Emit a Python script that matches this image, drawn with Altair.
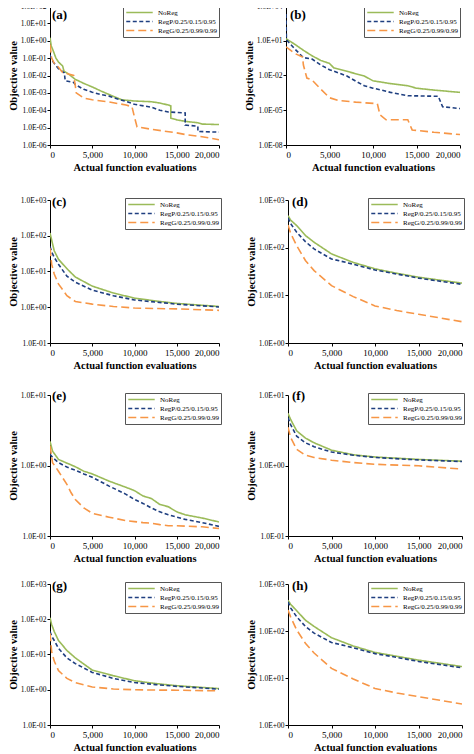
import altair as alt
import pandas as pd

SERIES = ["NoReg", "RegP/0.25/0.15/0.95", "RegG/0.25/0.99/0.99"]
COLORS = ["#9BBB59", "#1F3F80", "#F79646"]
DASHES = [[1, 0], [4, 2.5], [8, 4]]
X_TICKS = [0, 5000, 10000, 15000, 20000]
FONT = "Liberation Serif"

# ---- panel (a)
A_NOREG_X = [0, 150, 400, 700, 1000, 1500, 1650, 2200, 3000, 4000, 5000, 6000, 7000, 8000, 8500, 10000, 12000, 13000, 14000, 14300, 14300, 15000, 16000, 17500, 18000, 20000]
A_NOREG_Y = [1.5, 0.5, 0.25, 0.1, 0.06, 0.035, 0.018, 0.012, 6e-3, 3.5e-3, 2.2e-3, 1.3e-3, 8e-4, 5e-4, 4e-4, 3.4e-4, 3.1e-4, 2.6e-4, 2e-4, 1.8e-4, 3.5e-5, 2.8e-5, 2.3e-5, 1.9e-5, 1.6e-5, 1.5e-5]
A_REGP_X = [0, 200, 500, 1000, 1700, 1800, 2800, 3000, 4000, 5000, 6000, 7000, 8000, 9000, 10000, 12000, 13000, 14000, 16000, 16000, 17500, 17500, 20000]
A_REGP_Y = [0.15, 0.08, 0.05, 0.025, 0.014, 5e-3, 4e-3, 3e-3, 1.6e-3, 1.1e-3, 8e-4, 6.5e-4, 4.5e-4, 3.2e-4, 2.2e-4, 1.5e-4, 1e-4, 8e-5, 7e-5, 1.4e-5, 1.2e-5, 6e-6, 5.5e-6]
A_REGG_X = [0, 200, 500, 1000, 1500, 2800, 3000, 3100, 4000, 5000, 7000, 9000, 9700, 10000, 10300, 12000, 15000, 16000, 18000, 20000]
A_REGG_Y = [0.6, 0.1, 0.05, 0.03, 0.015, 0.01, 2.5e-3, 1e-3, 5e-4, 4e-4, 3e-4, 2e-4, 1.6e-4, 4e-5, 1.1e-5, 8e-6, 5e-6, 4e-6, 3e-6, 2e-6]
A_Y_TICKS = [1e-6, 1e-5, 1e-4, 1e-3, 1e-2, 1e-1, 1e0, 1e1, 1e2]

# ---- panel (b)
B_NOREG_X = [0, 1000, 2000, 3000, 4000, 5000, 5500, 7000, 9000, 10000, 12000, 14000, 15000, 17000, 20000]
B_NOREG_Y = [15, 5, 1.5, 0.5, 0.2, 0.11, 0.045, 0.023, 9e-3, 3.5e-3, 2e-3, 1.3e-3, 8e-4, 5.5e-4, 3.5e-4]
B_REGP_X = [0, 50, 1000, 2000, 3000, 4000, 5000, 6000, 7000, 8000, 9000, 10000, 11000, 12000, 14000, 17500, 18000, 20000]
B_REGP_Y = [2000, 12, 2, 0.35, 0.26, 0.08, 0.032, 0.017, 9e-3, 3.3e-3, 1.3e-3, 8e-4, 5.5e-4, 3.5e-4, 1.8e-4, 1.6e-4, 2e-5, 1.4e-5]
B_REGG_X = [0, 1000, 1900, 2000, 2400, 3000, 4000, 5000, 6000, 8000, 10500, 10800, 11500, 14000, 14500, 17000, 20000]
B_REGG_Y = [3, 0.8, 0.4, 0.08, 6e-3, 4e-3, 6.6e-4, 1.2e-4, 7e-5, 5e-5, 3.7e-5, 4e-6, 1.5e-6, 1.5e-6, 2e-7, 1.25e-7, 8e-8]
B_Y_TICKS = [1e-8, 1e-5, 1e-2, 1e1, 1e4]

# ---- panel (c)
C_X = [0, 200, 500, 1000, 2000, 3000, 5000, 7500, 10000, 12500, 15000, 20000]
C_NOREG_Y = [120, 75, 38, 22, 12, 7, 3.9, 2.5, 1.8, 1.5, 1.28, 1.05]
C_REGP_Y = [50, 35, 25, 16, 7.4, 5, 3, 2.1, 1.6, 1.4, 1.22, 1.02]
C_REGG_Y = [45, 16, 8.5, 4.5, 2.1, 1.45, 1.22, 1.05, 0.95, 0.92, 0.9, 0.82]
C_Y_TICKS = [1e-1, 1e0, 1e1, 1e2, 1e3]

# ---- panel (d)
D_X = [0, 300, 1000, 2000, 3000, 5000, 7500, 10000, 12500, 15000, 20000]
D_NOREG_Y = [470, 380, 290, 180, 130, 74, 49, 36, 29, 24, 18]
D_REGP_Y = [420, 320, 210, 134, 94, 58, 45, 34, 28, 23, 17]
D_REGG_Y = [300, 200, 110, 54, 33, 16, 9.4, 6, 4.8, 4, 2.8]
D_Y_TICKS = [1e0, 1e1, 1e2, 1e3]

# ---- panel (e)
E_X = [0, 300, 1000, 2000, 2500, 3000, 4000, 5000, 7000, 9000, 10000, 11000, 12000, 13000, 14000, 15000, 16000, 18000, 20000]
E_NOREG_Y = [2.2, 1.6, 1.22, 1.08, 1.02, 0.96, 0.83, 0.76, 0.6, 0.49, 0.44, 0.37, 0.34, 0.28, 0.26, 0.22, 0.2, 0.18, 0.158]
E_REGP_Y = [1.45, 1.3, 1.1, 0.95, 0.9, 0.86, 0.76, 0.68, 0.51, 0.39, 0.33, 0.29, 0.25, 0.22, 0.2, 0.185, 0.172, 0.155, 0.137]
E_REGG_Y = [1.9, 1.1, 0.83, 0.54, 0.41, 0.33, 0.25, 0.21, 0.185, 0.165, 0.16, 0.155, 0.152, 0.145, 0.14, 0.14, 0.138, 0.135, 0.128]
E_Y_TICKS = [1e-1, 1e0, 1e1]

# ---- panel (f)
F_X = [0, 300, 1000, 2000, 3000, 5000, 7500, 10000, 15000, 20000]
F_NOREG_Y = [5.5, 4.5, 3.1, 2.45, 2.1, 1.65, 1.42, 1.32, 1.22, 1.15]
F_REGP_Y = [4.8, 3.8, 2.6, 2.1, 1.85, 1.55, 1.4, 1.3, 1.2, 1.14]
F_REGG_Y = [3.5, 2.5, 1.7, 1.4, 1.3, 1.19, 1.1, 1.04, 0.99, 0.89]
F_Y_TICKS = [1e-1, 1e0, 1e1]

# ---- panel (g)
G_X = [0, 200, 500, 1000, 2000, 3000, 5000, 7500, 10000, 12500, 15000, 20000]
G_NOREG_Y = [110, 70, 45, 25, 13, 8, 3.6, 2.5, 1.8, 1.5, 1.3, 1.08]
G_REGP_Y = [45, 33, 25, 15, 8, 5.5, 3.1, 2.1, 1.6, 1.4, 1.25, 1.04]
G_REGG_Y = [40, 12, 6.5, 3.5, 2.1, 1.6, 1.2, 1.05, 1.0, 0.98, 0.97, 0.93]
G_Y_TICKS = [1e-1, 1e0, 1e1, 1e2, 1e3]

# ---- panel (h)
H_X = [0, 300, 1000, 2000, 3000, 5000, 7500, 10000, 12500, 15000, 20000]
H_NOREG_Y = [450, 370, 270, 170, 125, 72, 48, 35, 29, 24, 17.5]
H_REGP_Y = [420, 310, 200, 125, 90, 57, 44, 33, 27.5, 22.5, 16.5]
H_REGG_Y = [280, 200, 105, 55, 34, 16, 9.5, 6, 4.8, 4, 2.8]
H_Y_TICKS = [1e0, 1e1, 1e2, 1e3]

Y_LABEL_EXPR = ("'1.0E' + (datum.value < 0.99 ? '-' : '+') + "
                "(abs(round(log(datum.value) / LN10)) < 10 ? '0' : '') + "
                "abs(round(log(datum.value) / LN10))")
X_LABEL_EXPR = "format(datum.value, ',')"


def build_frame(xs, ys):
    rows = []
    for name, x_list, y_list in zip(SERIES, xs, ys):
        for i, (x, y) in enumerate(zip(x_list, y_list)):
            rows.append({"series": name, "x": x, "y": y, "i": i})
    return pd.DataFrame(rows)


def legend(offset):
    return alt.Legend(title=None, orient="top-right", offset=offset, strokeColor="#555555",
                      fillColor="white", padding=2)


def panel(label, xs, ys, yticks, width, height, tag_x, tag_y, leg_offset=-2):
    df = build_frame(xs, ys)
    lines = alt.Chart(df).mark_line(strokeWidth=1.6, clip=True).encode(
        x=alt.X("x:Q", scale=alt.Scale(domain=[0, 20000], nice=False),
                axis=alt.Axis(values=X_TICKS, labelExpr=X_LABEL_EXPR, title="Actual function evaluations")),
        y=alt.Y("y:Q", scale=alt.Scale(type="log", domain=[yticks[0], yticks[-1]], nice=False),
                axis=alt.Axis(values=yticks, labelExpr=Y_LABEL_EXPR, title="Objective value")),
        color=alt.Color("series:N", scale=alt.Scale(domain=SERIES, range=COLORS), legend=legend(leg_offset)),
        strokeDash=alt.StrokeDash("series:N", scale=alt.Scale(domain=SERIES, range=DASHES),
                                  legend=legend(leg_offset)),
        order=alt.Order("i:Q"),
    )
    tag = alt.Chart(pd.DataFrame({"t": [label]})).mark_text(
        font=FONT, fontSize=13, fontWeight="bold", align="left", baseline="alphabetic", color="black"
    ).encode(x=alt.value(tag_x), y=alt.value(tag_y), text="t:N")
    return alt.layer(lines, tag).properties(width=width, height=height)


def row(p1, p2):
    return alt.hconcat(p1, p2, spacing=24).resolve_scale(color="independent", strokeDash="independent")


WL, WR = 169, 174
pa = panel("(a)", [A_NOREG_X, A_REGP_X, A_REGG_X], [A_NOREG_Y, A_REGP_Y, A_REGG_Y], A_Y_TICKS, WL, 139, 2, 13, 0)
pb = panel("(b)", [B_NOREG_X, B_REGP_X, B_REGG_X], [B_NOREG_Y, B_REGP_Y, B_REGG_Y], B_Y_TICKS, WR, 139, 4, 13, 0)
pc = panel("(c)", [C_X] * 3, [C_NOREG_Y, C_REGP_Y, C_REGG_Y], C_Y_TICKS, WL, 143, 2, 6)
pd_ = panel("(d)", [D_X] * 3, [D_NOREG_Y, D_REGP_Y, D_REGG_Y], D_Y_TICKS, WR, 143, 4, 6)
pe = panel("(e)", [E_X] * 3, [E_NOREG_Y, E_REGP_Y, E_REGG_Y], E_Y_TICKS, WL, 141, 2, 5)
pf = panel("(f)", [F_X] * 3, [F_NOREG_Y, F_REGP_Y, F_REGG_Y], F_Y_TICKS, WR, 141, 4, 5)
pg = panel("(g)", [G_X] * 3, [G_NOREG_Y, G_REGP_Y, G_REGG_Y], G_Y_TICKS, WL, 141, 2, 6)
ph = panel("(h)", [H_X] * 3, [H_NOREG_Y, H_REGP_Y, H_REGG_Y], H_Y_TICKS, WR, 141, 4, 6)

r34 = alt.vconcat(row(pe, pf), row(pg, ph), spacing=16).resolve_scale(color="independent", strokeDash="independent")
r234 = alt.vconcat(row(pc, pd_), r34, spacing=19).resolve_scale(color="independent", strokeDash="independent")
chart = alt.vconcat(row(pa, pb), r234, spacing=23).resolve_scale(
    color="independent", strokeDash="independent"
).properties(
    padding={"left": 0, "top": -6, "right": 0, "bottom": 0}
).configure_view(stroke=None).configure_axis(
    labelFont=FONT, labelColor="black",
    titleFont=FONT, titleFontSize=10.5, titleFontWeight="bold", titleColor="black",
    domainColor="black", tickColor="black", tickSize=3, grid=False,
).configure_axisY(titlePadding=2, labelFontSize=7.5, labelPadding=1).configure_axisX(
    titlePadding=3, labelFontSize=9, labelPadding=2
).configure_legend(
    labelFont=FONT, labelFontSize=7, labelColor="black", symbolType="stroke",
    symbolSize=700, symbolStrokeWidth=1.6, clipHeight=9, rowPadding=0, labelOffset=4,
    cornerRadius=0, strokeWidth=1,
)

chart.save("out.html", embed_options={"renderer": "svg", "actions": False})
